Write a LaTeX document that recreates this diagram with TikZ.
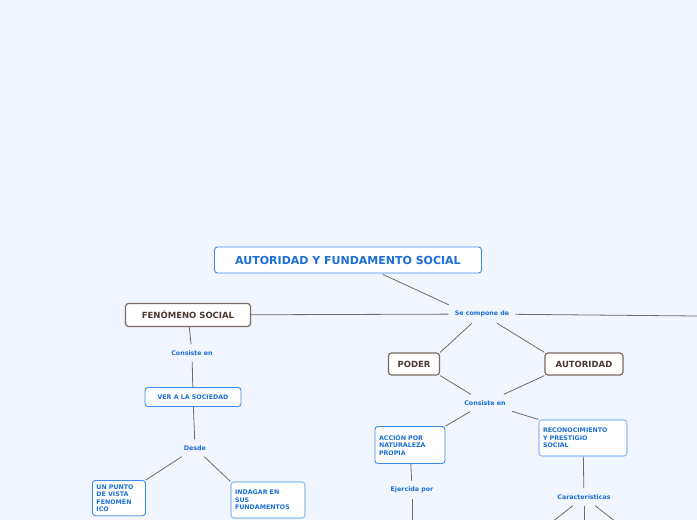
\documentclass[tikz,border=0pt]{standalone}
\usepackage{fontspec}
\setmainfont{DejaVu Sans}
\definecolor{tblue}{HTML}{1C6FD6}
\definecolor{bblue}{HTML}{3C8BE6}
\definecolor{lblue}{HTML}{8CBFF2}
\definecolor{bbr}{HTML}{7A6A62}
\definecolor{tbr}{HTML}{4A3A32}
\definecolor{bg}{HTML}{F1F5FE}
\begin{document}
\begin{tikzpicture}[x=1pt,y=-1pt,
  bbox/.style={draw=bblue,fill=white,rounded corners=3pt,line width=0.9pt,text=tblue,font=\bfseries\fontsize{6.3}{7.5}\selectfont,align=left,inner sep=4pt},
  lbox/.style={bbox,draw=lblue,line width=1.1pt},
  brbox/.style={draw=bbr,fill=white,rounded corners=3pt,line width=1.2pt,text=tbr,font=\bfseries\fontsize{8.5}{10}\selectfont,inner sep=5pt},
  lab/.style={text=tblue,font=\bfseries\fontsize{6.3}{7.5}\selectfont,inner sep=6pt},
  con/.style={draw=gray!85!black,line width=0.8pt}]
\fill[bg] (0,0) rectangle (697,520);
\clip (0,0) rectangle (697,520);
\useasboundingbox (0,0) rectangle (697,520);
\node[bbox,font=\bfseries\fontsize{11}{13}\selectfont,minimum width=267pt,minimum height=26pt] (t) at (348,260) {AUTORIDAD Y FUNDAMENTO SOCIAL};
\node[lab] (sc) at (482,314) {Se compone de};
\node[brbox,minimum width=125pt,minimum height=23pt] (fs) at (188,315) {FENÓMENO SOCIAL};
\node[brbox,minimum width=51pt,minimum height=22pt] (po) at (414,364) {PODER};
\node[brbox,minimum width=78pt,minimum height=22pt] (au) at (584,364) {AUTORIDAD};
\node[lab] (ce) at (485,403) {Consiste en};
\node[bbox,text width=62pt,minimum height=37pt] (ac) at (410,445) {ACCIÓN POR\\NATURALEZA\\PROPIA};
\node[lbox,text width=80pt,minimum height=36pt] (re) at (583,438) {RECONOCIMIENTO\\Y PRESTIGIO\\SOCIAL};
\node[lab] (ej) at (412,490) {Ejercida por};
\node[lab] (ca) at (584,497) {Características};
\node[lab] (c2) at (192,353) {Consiste en};
\node[bbox,minimum width=96pt,minimum height=19pt] (vs) at (193,397) {VER A LA SOCIEDAD};
\node[lab] (de) at (195,448) {Desde};
\node[bbox,text width=45pt,anchor=north west] (up) at (92,480) {UN PUNTO\\DE VISTA\\FENOMÉN\\ICO};
\node[lbox,text width=66pt,minimum height=36pt] (in) at (268,500) {INDAGAR EN\\SUS\\FUNDAMENTOS};
\coordinate (r) at (697,316);
\coordinate (b1) at (412,520);
\coordinate (b2) at (552,522);
\coordinate (b3) at (584,522);
\coordinate (b4) at (616,522);
\draw[con] (t.south east)+(-99,1) -- (sc.north west);
\draw[con] (fs) -- (sc);
\draw[con] (sc) -- (r);
\draw[con] (sc) -- (po.north east);
\draw[con] (sc) -- (au.north west);
\draw[con] (po.south east) -- (ce);
\draw[con] (au.south west) -- (ce);
\draw[con] (ce) -- (ac.north east);
\draw[con] (ce) -- (re.north west);
\draw[con] (ac) -- (ej);
\draw[con] (ej) -- (b1);
\draw[con] (re) -- (ca);
\draw[con] (ca) -- (b2);
\draw[con] (ca) -- (b3);
\draw[con] (ca) -- (b4);
\draw[con] (fs) -- (c2);
\draw[con] (c2) -- (vs);
\draw[con] (vs) -- (de);
\draw[con] (de) -- (up.north east);
\draw[con] (de) -- (in.north west);
\end{tikzpicture}
\end{document}
